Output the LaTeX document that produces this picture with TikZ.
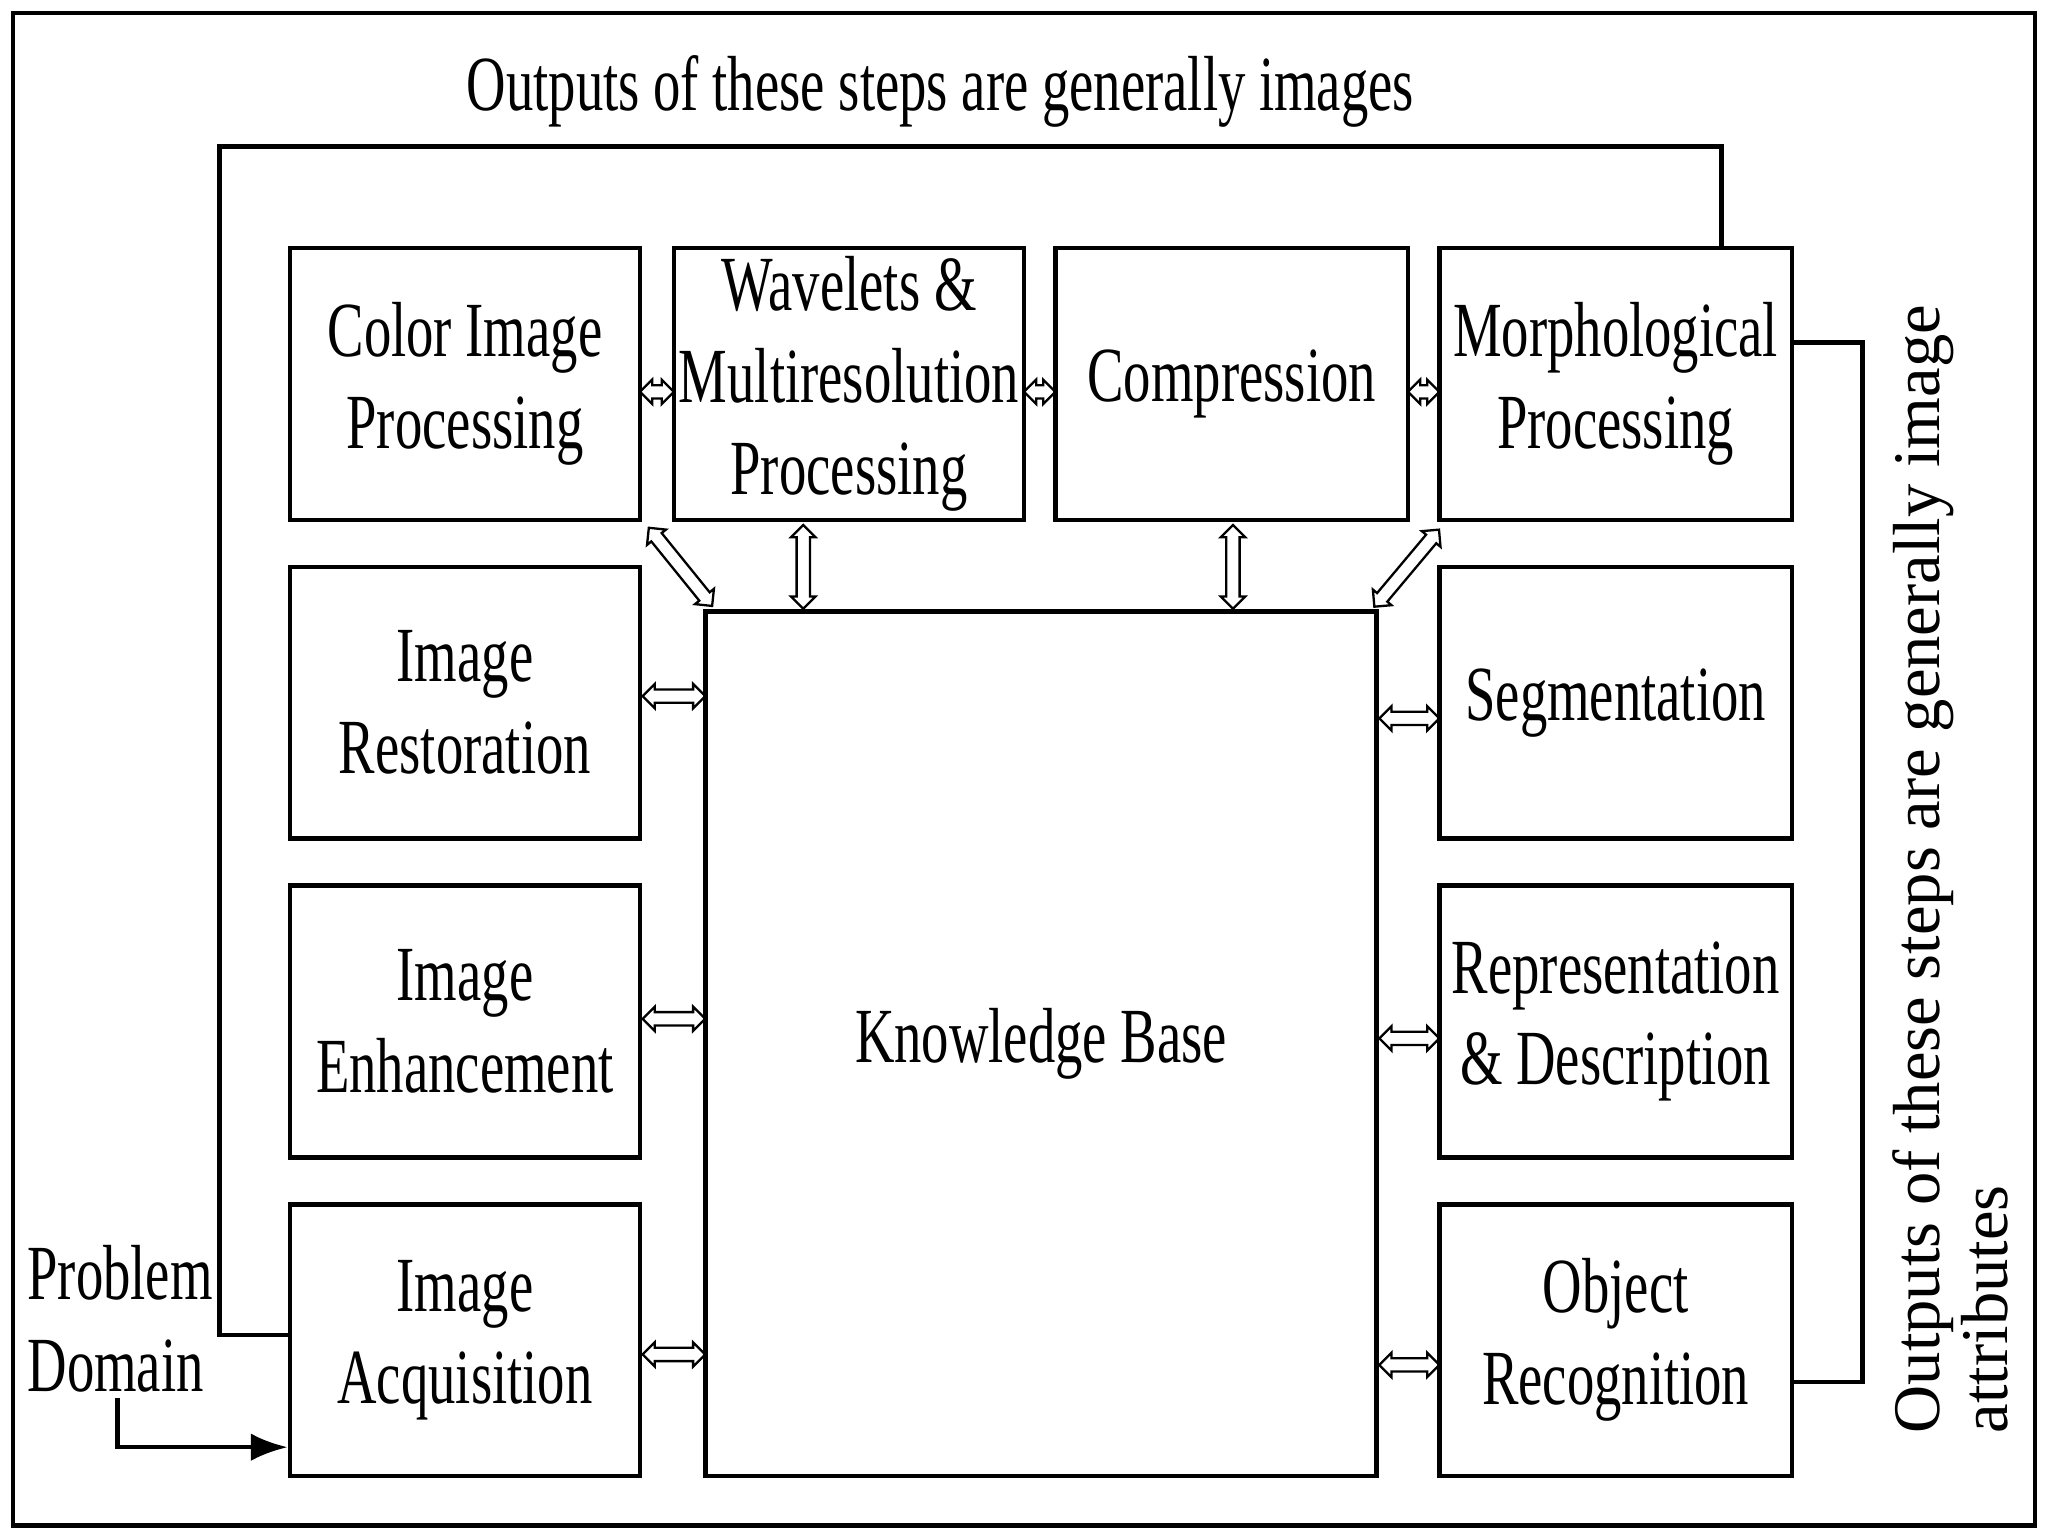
\documentclass[tikz,border=0pt]{standalone}
\usepackage{fontspec}
\setmainfont{Liberation Serif}[FakeStretch=0.7]
\newfontfamily\sidefont{Liberation Serif}
\usetikzlibrary{arrows.meta,shapes.arrows}
\begin{document}
\begin{tikzpicture}[x=0.01cm,y=0.01cm,
  box/.style={draw,line width=1pt,inner sep=0pt,align=center,font=\fontsize{17}{20}\selectfont},
  line/.style={line width=1pt},
  dbl/.style={double arrow,draw,line width=0.5pt,inner sep=1.2pt,minimum width=4.8pt,double arrow head extend=1.2pt}]
\useasboundingbox (0,0) rectangle (1568,-1175);
\draw[line width=1pt] (10,-10) rectangle (1558,-1168);
\newcommand\mybox[6]{\node[box,minimum width={(#4-#2)*0.01cm},minimum height={(#5-#3)*0.01cm}] (#1) at ({(#2+#4)/2},{-(#3+#5)/2}) {#6};}
\mybox{cip}{222}{190}{490}{398}{Color Image\\Processing}
\mybox{wav}{516}{190}{784}{398}{Wavelets \&\\Multiresolution\\Processing}
\mybox{comp}{808}{190}{1078}{398}{Compression}
\mybox{morph}{1102}{190}{1372}{398}{Morphological\\Processing}
\mybox{rest}{222}{434}{490}{642}{Image\\Restoration}
\mybox{enh}{222}{678}{490}{886}{Image\\Enhancement}
\mybox{acq}{222}{922}{490}{1130}{Image\\Acquisition}
\mybox{kb}{540}{468}{1054}{1130}{Knowledge Base}
\mybox{seg}{1102}{434}{1372}{642}{Segmentation}
\mybox{rep}{1102}{678}{1372}{886}{Representation\\\& Description}
\mybox{obj}{1102}{922}{1372}{1130}{Object\\Recognition}
\draw[line] (acq.west |- 0,-1022) -- (168,-1022) -- (168,-112) -- (1318,-112) -- (morph.north -| 1318,0);
\draw[line] (morph.east |- 0,-262) -- (1426,-262) -- (1426,-1058) -- (obj.east |- 0,-1058);
\node[font=\fontsize{17}{20}\selectfont] (top) at (720,-70) {Outputs of these steps are generally images};
\node[font=\sidefont\fontsize{14.5}{15}\selectfont,rotate=90,anchor=north west,align=left,inner sep=0pt] (side) at (1448,-1098) {Outputs of these steps are generally image\\attributes};
\node[font=\fontsize{17}{20}\selectfont,align=left] (pd) at (92,-1010) {Problem\\Domain};
\coordinate (p0) at (90,-1070);
\draw[line,-{Latex[length=8pt]}] (p0) -- (90,-1108) -- (acq.west |- 0,-1108);
\newcommand\darr[5]{\node[dbl,minimum height={#4*0.01cm},rotate=#5] (#1) at (#2,#3) {};}
\darr{d1}{503}{-300}{26}{0}
\darr{d2}{796}{-300}{24}{0}
\darr{d3}{1090}{-300}{24}{0}
\darr{d4}{521}{-434}{77}{-51}
\darr{d5}{615}{-434}{64}{90}
\darr{d6}{944}{-434}{64}{90}
\darr{d7}{1077}{-435}{77}{50}
\darr{d8}{516}{-533}{48}{0}
\darr{d9}{516}{-780}{48}{0}
\darr{d10}{516}{-1037}{48}{0}
\darr{d11}{1079}{-550}{46}{0}
\darr{d12}{1079}{-795}{46}{0}
\darr{d13}{1079}{-1045}{46}{0}
\end{tikzpicture}
\end{document}
